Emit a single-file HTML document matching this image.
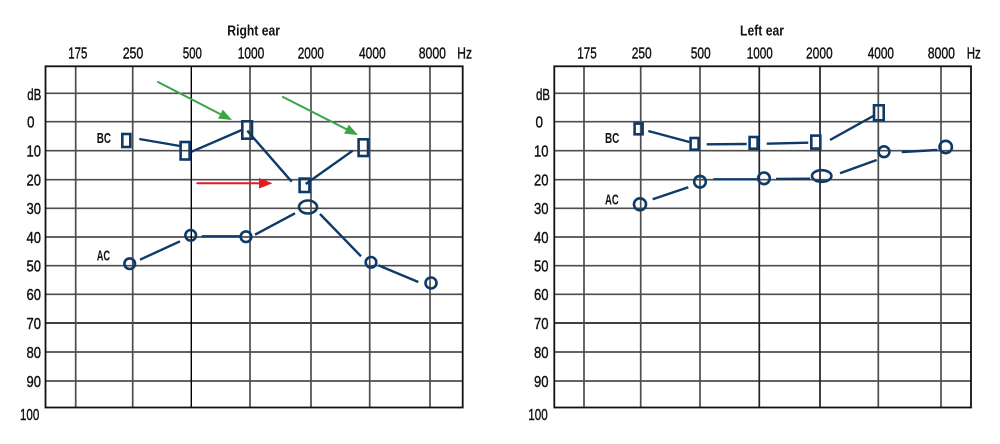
<!DOCTYPE html>
<html>
<head>
<meta charset="utf-8">
<style>
html,body{margin:0;padding:0;background:#fff;}
svg{display:block;}
text{font-family:"Liberation Sans",sans-serif;fill:#111;}
.t{font-size:16px;stroke:#111;stroke-width:0.4px;}
.b{font-weight:bold;}
</style>
</head>
<body>
<svg width="1000" height="444" viewBox="0 0 1000 444" xmlns="http://www.w3.org/2000/svg">
<rect width="1000" height="444" fill="#fff"/>

<!-- ================= LEFT CHART (Right ear) ================= -->
<g stroke="#4d4d4d" stroke-width="1.7" fill="none">
  <line x1="45.5" y1="93.3" x2="462.7" y2="93.3"/>
  <line x1="45.5" y1="121.7" x2="462.7" y2="121.7"/>
  <line x1="45.5" y1="150.7" x2="462.7" y2="150.7"/>
  <line x1="45.5" y1="179.7" x2="462.7" y2="179.7"/>
  <line x1="45.5" y1="208.3" x2="462.7" y2="208.3"/>
  <line x1="45.5" y1="237" x2="462.7" y2="237"/>
  <line x1="45.5" y1="265.7" x2="462.7" y2="265.7"/>
  <line x1="45.5" y1="294.3" x2="462.7" y2="294.3"/>
  <line x1="45.5" y1="323" x2="462.7" y2="323" stroke="#000" stroke-width="1.4"/>
  <line x1="45.5" y1="352" x2="462.7" y2="352"/>
  <line x1="45.5" y1="381" x2="462.7" y2="381"/>
  <line x1="75.7" y1="66.3" x2="75.7" y2="407.5"/>
  <line x1="132.7" y1="66.3" x2="132.7" y2="407.5"/>
  <line x1="191.3" y1="66.3" x2="191.3" y2="407.5" stroke="#000" stroke-width="1.4"/>
  <line x1="250" y1="66.3" x2="250" y2="407.5"/>
  <line x1="311" y1="66.3" x2="311" y2="407.5"/>
  <line x1="369.7" y1="66.3" x2="369.7" y2="407.5"/>
  <line x1="430" y1="66.3" x2="430" y2="407.5"/>
  <rect x="45.5" y="66.3" width="417.2" height="341.2" stroke="#111" stroke-width="1.8"/>
</g>

<text class="b" x="227.3" y="35.7" font-size="15" textLength="52.7" lengthAdjust="spacingAndGlyphs">Right ear</text>

<g>
  <text x="68.3" y="58.5" class="t" textLength="19" lengthAdjust="spacingAndGlyphs">175</text>
  <text x="122.7" y="58.5" class="t" textLength="20.6" lengthAdjust="spacingAndGlyphs">250</text>
  <text x="182.7" y="58.5" class="t" textLength="19.3" lengthAdjust="spacingAndGlyphs">500</text>
  <text x="237.7" y="58.5" class="t" textLength="26.6" lengthAdjust="spacingAndGlyphs">1000</text>
  <text x="297.7" y="58.5" class="t" textLength="26.3" lengthAdjust="spacingAndGlyphs">2000</text>
  <text x="359" y="58.5" class="t" textLength="26.7" lengthAdjust="spacingAndGlyphs">4000</text>
  <text x="418.7" y="58.5" class="t" textLength="27.3" lengthAdjust="spacingAndGlyphs">8000</text>
  <text x="457.3" y="58.5" class="t" textLength="14.7" lengthAdjust="spacingAndGlyphs">Hz</text>
</g>

<g text-anchor="end">
  <text x="41.3" y="99.8" class="t" textLength="14" lengthAdjust="spacingAndGlyphs">dB</text>
  <text x="34.5" y="127.5" class="t" textLength="7.5" lengthAdjust="spacingAndGlyphs">0</text>
  <text x="41" y="156.5" class="t" textLength="14.5" lengthAdjust="spacingAndGlyphs">10</text>
  <text x="41" y="185.5" class="t" textLength="14.5" lengthAdjust="spacingAndGlyphs">20</text>
  <text x="41" y="214.1" class="t" textLength="14.5" lengthAdjust="spacingAndGlyphs">30</text>
  <text x="41" y="242.8" class="t" textLength="14.5" lengthAdjust="spacingAndGlyphs">40</text>
  <text x="41" y="271.5" class="t" textLength="14.5" lengthAdjust="spacingAndGlyphs">50</text>
  <text x="41" y="300.1" class="t" textLength="14.5" lengthAdjust="spacingAndGlyphs">60</text>
  <text x="41" y="328.8" class="t" textLength="14.5" lengthAdjust="spacingAndGlyphs">70</text>
  <text x="41" y="357.8" class="t" textLength="14.5" lengthAdjust="spacingAndGlyphs">80</text>
  <text x="41" y="386.8" class="t" textLength="14.5" lengthAdjust="spacingAndGlyphs">90</text>
  <text x="39.3" y="419.8" class="t" textLength="19.3" lengthAdjust="spacingAndGlyphs">100</text>
</g>

<text class="b" x="96.7" y="143" font-size="15" textLength="14.3" lengthAdjust="spacingAndGlyphs">BC</text>
<text class="b" x="96.7" y="260.6" font-size="15" textLength="13.4" lengthAdjust="spacingAndGlyphs">AC</text>

<!-- arrows -->
<g stroke-width="2" stroke-linecap="round">
  <line x1="158" y1="82" x2="222" y2="115" stroke="#3aa447"/>
  <polygon points="232,120 218.1,118.6 222.8,109.6" fill="#3aa447" stroke="none"/>
  <line x1="283" y1="97" x2="348" y2="130" stroke="#3aa447"/>
  <polygon points="358,135 344.1,133.6 348.8,124.6" fill="#3aa447" stroke="none"/>
  <line x1="197.3" y1="183.3" x2="260" y2="183.3" stroke="#e31b23"/>
  <polygon points="272.5,183.3 259,178 259,188.6" fill="#e31b23" stroke="none"/>
</g>

<g stroke="#0e3a69" fill="none" stroke-width="2.4">
  <line x1="139.3" y1="139" x2="180" y2="146"/>
  <line x1="191.7" y1="151.7" x2="241.7" y2="130"/>
  <line x1="247.3" y1="130.7" x2="291.7" y2="181.7"/>
  <line x1="305.7" y1="184" x2="352.7" y2="150.7"/>
  <line x1="140" y1="259.7" x2="180" y2="241.3"/>
  <line x1="201.7" y1="236.3" x2="240" y2="236.3"/>
  <line x1="255" y1="234.7" x2="295" y2="213.3"/>
  <line x1="320" y1="214" x2="361" y2="256.3"/>
  <line x1="378.3" y1="265.3" x2="418.3" y2="282"/>
</g>
<g stroke="#0e3a69" fill="none" stroke-width="2.6">
  <rect x="122.3" y="134" width="8" height="13"/>
  <rect x="180.6" y="142" width="9" height="17.5"/>
  <rect x="242.3" y="121.3" width="9.7" height="17.4"/>
  <rect x="299.6" y="178.6" width="9.8" height="13.4"/>
  <rect x="358.6" y="139.3" width="9.4" height="16.7"/>
  <circle cx="129.7" cy="263.7" r="5.3"/>
  <circle cx="190.7" cy="235.3" r="5.3"/>
  <circle cx="246" cy="236.7" r="5.3"/>
  <ellipse cx="308" cy="207" rx="9" ry="6.5"/>
  <circle cx="371" cy="262.3" r="5.3"/>
  <circle cx="431" cy="283" r="5.5"/>
</g>

<!-- ================= RIGHT CHART (Left ear) ================= -->
<g stroke="#4d4d4d" stroke-width="1.7" fill="none">
  <line x1="554.3" y1="93.3" x2="971" y2="93.3"/>
  <line x1="554.3" y1="121.7" x2="971" y2="121.7"/>
  <line x1="554.3" y1="150.7" x2="971" y2="150.7"/>
  <line x1="554.3" y1="179.7" x2="971" y2="179.7"/>
  <line x1="554.3" y1="208.3" x2="971" y2="208.3"/>
  <line x1="554.3" y1="237" x2="971" y2="237"/>
  <line x1="554.3" y1="265.7" x2="971" y2="265.7"/>
  <line x1="554.3" y1="294.3" x2="971" y2="294.3"/>
  <line x1="554.3" y1="323" x2="971" y2="323" stroke="#000" stroke-width="1.4"/>
  <line x1="554.3" y1="352" x2="971" y2="352"/>
  <line x1="554.3" y1="381" x2="971" y2="381"/>
  <line x1="584" y1="66.3" x2="584" y2="407.5"/>
  <line x1="640.7" y1="66.3" x2="640.7" y2="407.5"/>
  <line x1="700" y1="66.3" x2="700" y2="407.5"/>
  <line x1="759.3" y1="66.3" x2="759.3" y2="407.5" stroke="#222"/>
  <line x1="820" y1="66.3" x2="820" y2="407.5" stroke="#222"/>
  <line x1="878.3" y1="66.3" x2="878.3" y2="407.5"/>
  <line x1="941" y1="66.3" x2="941" y2="407.5"/>
  <rect x="554.3" y="66.3" width="416.7" height="341.2" stroke="#111" stroke-width="1.8"/>
</g>

<text class="b" x="740" y="35.7" font-size="15" textLength="44" lengthAdjust="spacingAndGlyphs">Left ear</text>

<g>
  <text x="577.3" y="58.5" class="t" textLength="19.4" lengthAdjust="spacingAndGlyphs">175</text>
  <text x="631.7" y="58.5" class="t" textLength="20" lengthAdjust="spacingAndGlyphs">250</text>
  <text x="690.7" y="58.5" class="t" textLength="20" lengthAdjust="spacingAndGlyphs">500</text>
  <text x="746.7" y="58.5" class="t" textLength="26" lengthAdjust="spacingAndGlyphs">1000</text>
  <text x="806" y="58.5" class="t" textLength="26.7" lengthAdjust="spacingAndGlyphs">2000</text>
  <text x="867.7" y="58.5" class="t" textLength="26.3" lengthAdjust="spacingAndGlyphs">4000</text>
  <text x="927.7" y="58.5" class="t" textLength="27.3" lengthAdjust="spacingAndGlyphs">8000</text>
  <text x="966.7" y="58.5" class="t" textLength="14" lengthAdjust="spacingAndGlyphs">Hz</text>
</g>

<g text-anchor="end">
  <text x="550" y="99.8" class="t" textLength="14" lengthAdjust="spacingAndGlyphs">dB</text>
  <text x="543" y="127.5" class="t" textLength="7.5" lengthAdjust="spacingAndGlyphs">0</text>
  <text x="548.5" y="156.5" class="t" textLength="14.5" lengthAdjust="spacingAndGlyphs">10</text>
  <text x="548.5" y="185.5" class="t" textLength="14.5" lengthAdjust="spacingAndGlyphs">20</text>
  <text x="548.5" y="214.1" class="t" textLength="14.5" lengthAdjust="spacingAndGlyphs">30</text>
  <text x="548.5" y="242.8" class="t" textLength="14.5" lengthAdjust="spacingAndGlyphs">40</text>
  <text x="548.5" y="271.5" class="t" textLength="14.5" lengthAdjust="spacingAndGlyphs">50</text>
  <text x="548.5" y="300.1" class="t" textLength="14.5" lengthAdjust="spacingAndGlyphs">60</text>
  <text x="548.5" y="328.8" class="t" textLength="14.5" lengthAdjust="spacingAndGlyphs">70</text>
  <text x="548.5" y="357.8" class="t" textLength="14.5" lengthAdjust="spacingAndGlyphs">80</text>
  <text x="548.5" y="386.8" class="t" textLength="14.5" lengthAdjust="spacingAndGlyphs">90</text>
  <text x="547.7" y="419.8" class="t" textLength="19.4" lengthAdjust="spacingAndGlyphs">100</text>
</g>

<text class="b" x="605" y="143" font-size="15" textLength="14.3" lengthAdjust="spacingAndGlyphs">BC</text>
<text class="b" x="605" y="204.3" font-size="15" textLength="13.7" lengthAdjust="spacingAndGlyphs">AC</text>

<g stroke="#0e3a69" fill="none" stroke-width="2.4">
  <line x1="648.3" y1="131" x2="689.3" y2="142"/>
  <line x1="706.7" y1="144.3" x2="746.7" y2="144"/>
  <line x1="766.7" y1="143.7" x2="808.3" y2="142.7"/>
  <line x1="830" y1="140" x2="875" y2="115"/>
  <line x1="652.7" y1="199.3" x2="688.3" y2="187.3"/>
  <line x1="713.3" y1="179.3" x2="757.3" y2="179.3"/>
  <line x1="776" y1="179" x2="810" y2="178.7"/>
  <line x1="840" y1="173.3" x2="876.7" y2="160"/>
  <line x1="901.7" y1="152" x2="937.3" y2="150"/>
</g>
<g stroke="#0e3a69" fill="none" stroke-width="2.6">
  <rect x="634.6" y="123.6" width="8" height="10.7"/>
  <rect x="690.6" y="138" width="8" height="11.7"/>
  <rect x="749.6" y="137" width="8" height="11.7"/>
  <rect x="811.3" y="135.6" width="9" height="13"/>
  <rect x="874" y="105.3" width="9.7" height="15"/>
  <circle cx="640" cy="204.3" r="6"/>
  <circle cx="700" cy="181.7" r="5.8"/>
  <circle cx="764" cy="178.3" r="5.8"/>
  <ellipse cx="821.7" cy="176" rx="9.7" ry="5.8"/>
  <circle cx="884" cy="151.7" r="5.4"/>
  <circle cx="945.7" cy="147" r="6.2"/>
</g>
</svg>
</body>
</html>
